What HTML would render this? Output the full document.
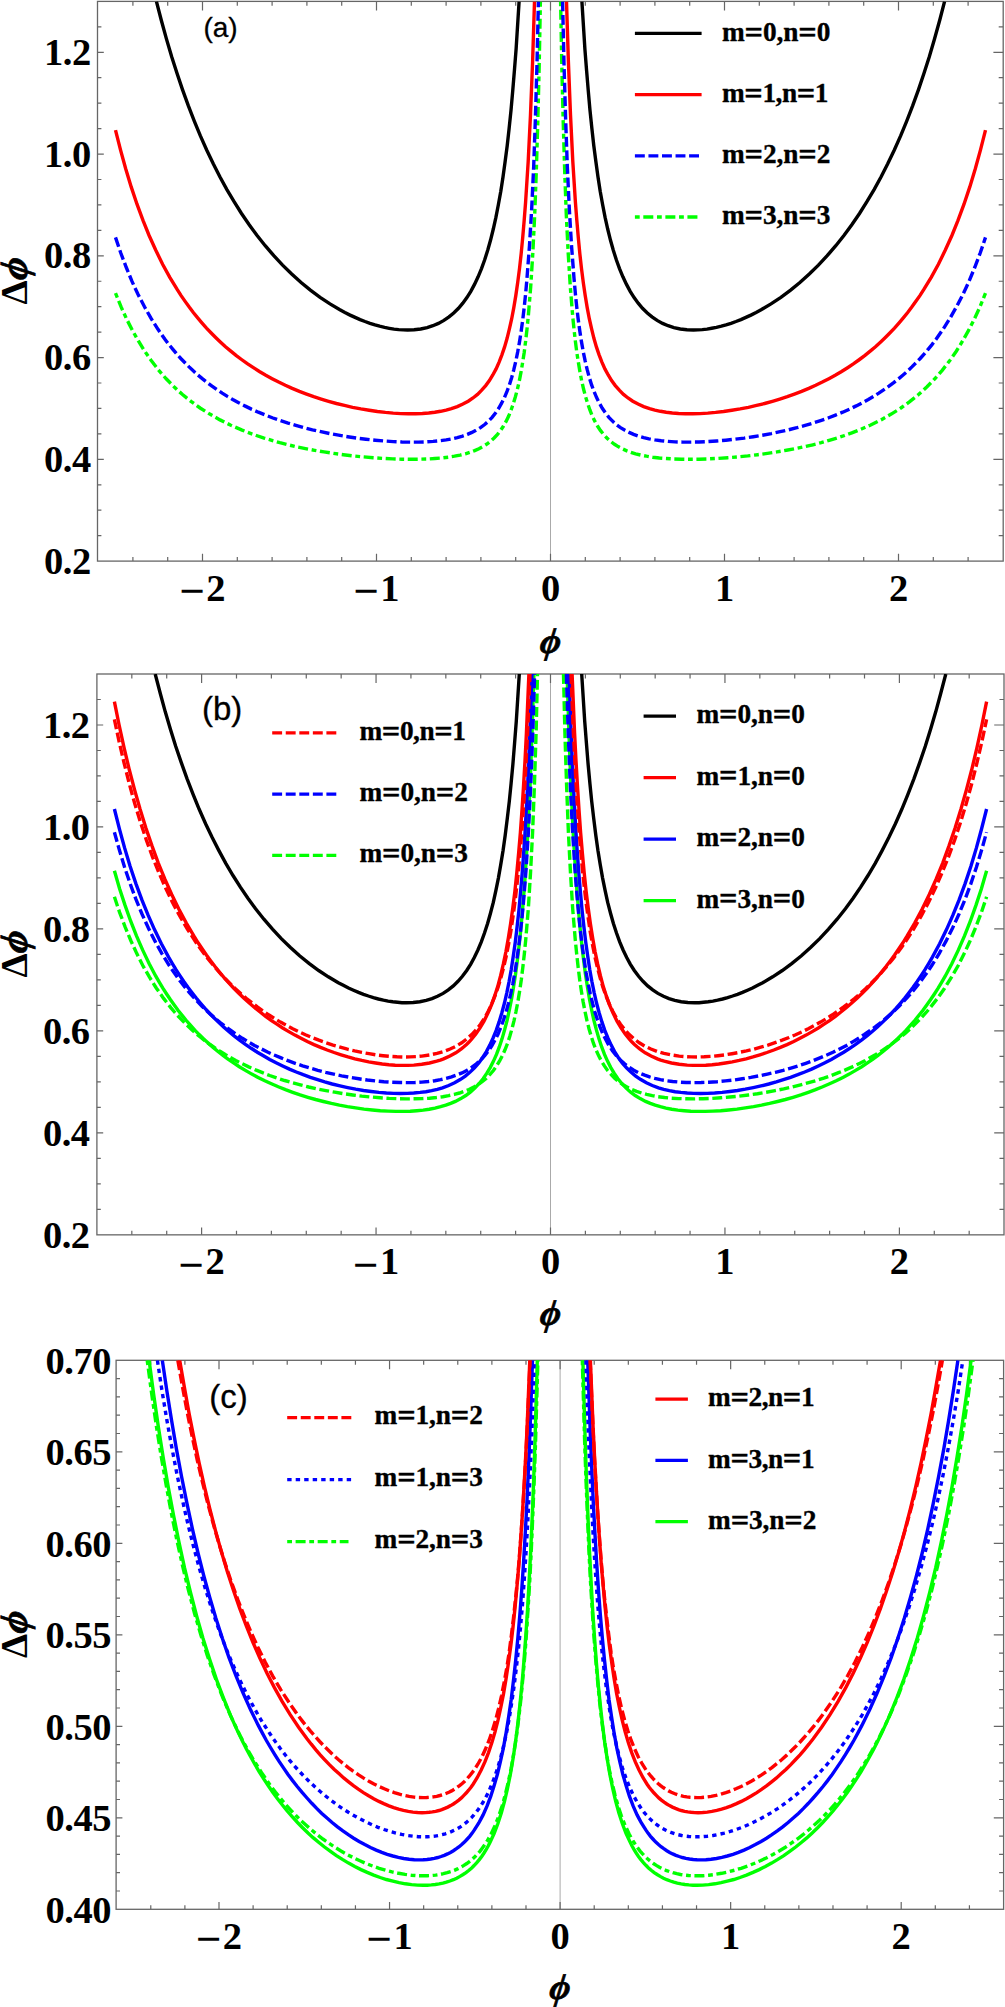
<!DOCTYPE html>
<html><head><meta charset="utf-8"><title>Phase sensitivity plots</title>
<style>html,body{margin:0;padding:0;background:#fff;}svg{display:block;}</style></head>
<body>
<svg width="1005" height="2007" viewBox="0 0 1005 2007">
<style>.tk{font-family:'Liberation Serif','Times New Roman',serif;font-weight:bold;font-size:38.5px;fill:#000}.ax{font-family:'Liberation Serif','Times New Roman',serif;font-weight:bold;font-style:italic;font-size:36px;fill:#000}.lg{font-family:'Liberation Serif','Times New Roman',serif;font-weight:bold;font-size:27.3px;fill:#000;stroke:#000;stroke-width:0.35px}.pl{font-family:'Liberation Sans',Arial,sans-serif;font-size:28px;fill:#000;stroke:#000;stroke-width:0.3px}.eq{font-size:32.5px}</style>
<rect width="1005" height="2007" fill="#fff"/>
<clipPath id="clipa"><rect x="97.50" y="1.40" width="905.70" height="559.70"/></clipPath>
<line x1="550.50" y1="1.40" x2="550.50" y2="561.10" stroke="#aaa" stroke-width="1"/>
<path d="M132.90,561.10v-4.1M132.90,1.40v4.4M167.70,561.10v-4.1M167.70,1.40v4.4M202.50,561.10v-7.4M202.50,1.40v9.0M237.30,561.10v-4.1M237.30,1.40v4.4M272.10,561.10v-4.1M272.10,1.40v4.4M306.90,561.10v-4.1M306.90,1.40v4.4M341.70,561.10v-4.1M341.70,1.40v4.4M376.50,561.10v-7.4M376.50,1.40v9.0M411.30,561.10v-4.1M411.30,1.40v4.4M446.10,561.10v-4.1M446.10,1.40v4.4M480.90,561.10v-4.1M480.90,1.40v4.4M515.70,561.10v-4.1M515.70,1.40v4.4M550.50,561.10v-7.4M550.50,1.40v9.0M585.30,561.10v-4.1M585.30,1.40v4.4M620.10,561.10v-4.1M620.10,1.40v4.4M654.90,561.10v-4.1M654.90,1.40v4.4M689.70,561.10v-4.1M689.70,1.40v4.4M724.50,561.10v-7.4M724.50,1.40v9.0M759.30,561.10v-4.1M759.30,1.40v4.4M794.10,561.10v-4.1M794.10,1.40v4.4M828.90,561.10v-4.1M828.90,1.40v4.4M863.70,561.10v-4.1M863.70,1.40v4.4M898.50,561.10v-7.4M898.50,1.40v9.0M933.30,561.10v-4.1M933.30,1.40v4.4M968.10,561.10v-4.1M968.10,1.40v4.4M97.50,535.66h3.9M1003.20,535.66h-4.5M97.50,510.22h3.9M1003.20,510.22h-4.5M97.50,484.78h3.9M1003.20,484.78h-4.5M97.50,459.34h6.3M1003.20,459.34h-9.8M97.50,433.90h3.9M1003.20,433.90h-4.5M97.50,408.45h3.9M1003.20,408.45h-4.5M97.50,383.01h3.9M1003.20,383.01h-4.5M97.50,357.57h6.3M1003.20,357.57h-9.8M97.50,332.13h3.9M1003.20,332.13h-4.5M97.50,306.69h3.9M1003.20,306.69h-4.5M97.50,281.25h3.9M1003.20,281.25h-4.5M97.50,255.81h6.3M1003.20,255.81h-9.8M97.50,230.37h3.9M1003.20,230.37h-4.5M97.50,204.93h3.9M1003.20,204.93h-4.5M97.50,179.49h3.9M1003.20,179.49h-4.5M97.50,154.05h6.3M1003.20,154.05h-9.8M97.50,128.60h3.9M1003.20,128.60h-4.5M97.50,103.16h3.9M1003.20,103.16h-4.5M97.50,77.72h3.9M1003.20,77.72h-4.5M97.50,52.28h6.3M1003.20,52.28h-9.8M97.50,26.84h3.9M1003.20,26.84h-4.5" stroke="#666" stroke-width="1.2" fill="none"/>
<rect x="97.50" y="1.40" width="905.70" height="559.70" fill="none" stroke="#666" stroke-width="1.3"/>
<text x="90.70" y="573.70" text-anchor="end" class="tk" font-size="40" letter-spacing="-0.5">0.2</text>
<text x="90.70" y="471.94" text-anchor="end" class="tk" font-size="40" letter-spacing="-0.5">0.4</text>
<text x="90.70" y="370.17" text-anchor="end" class="tk" font-size="40" letter-spacing="-0.5">0.6</text>
<text x="90.70" y="268.41" text-anchor="end" class="tk" font-size="40" letter-spacing="-0.5">0.8</text>
<text x="90.70" y="166.65" text-anchor="end" class="tk" font-size="40" letter-spacing="-0.5">1.0</text>
<text x="90.70" y="64.88" text-anchor="end" class="tk" font-size="40" letter-spacing="-0.5">1.2</text>
<text x="202.50" y="600.70" text-anchor="middle" class="tk"><tspan font-size="45" dy="5.4">−</tspan><tspan dy="-5.4" dx="1.3">2</tspan></text>
<text x="376.50" y="600.70" text-anchor="middle" class="tk"><tspan font-size="45" dy="5.4">−</tspan><tspan dy="-5.4" dx="1.3">1</tspan></text>
<text x="550.50" y="600.70" text-anchor="middle" class="tk">0</text>
<text x="724.50" y="600.70" text-anchor="middle" class="tk">1</text>
<text x="898.50" y="600.70" text-anchor="middle" class="tk">2</text>
<text transform="translate(549.30,652.70) skewX(-7)" text-anchor="middle" class="ax" stroke="#000" stroke-width="0.7">ϕ</text>
<text transform="translate(26.5,281.25) rotate(-90)" x="-23.2" class="tk">Δ</text>
<text transform="translate(26.5,281.25) rotate(-90) translate(0.2,0) skewX(-8)" class="tk" font-style="italic" font-size="36.5" stroke="#000" stroke-width="0.7">ϕ</text>
<path d="M115.5,293.2L121.0,306.7 126.5,318.8 132.3,330.2 138.4,341.0 144.7,351.2 151.6,361.1 158.8,370.3 166.2,378.8 174.0,386.7 178.1,390.6 182.2,394.3 186.6,397.9 191.0,401.4 200.1,408.0 209.8,414.1 220.0,419.9 230.8,425.2 242.1,430.1 249.2,432.9 256.4,435.5 264.1,438.1 271.8,440.4 279.8,442.7 288.1,444.8 296.7,446.8 305.5,448.6 314.6,450.3 324.0,451.9 333.6,453.4 343.3,454.7 353.2,455.9 363.4,456.9 373.3,457.7 383.2,458.4 392.6,458.9 402.0,459.2 410.8,459.3 419.4,459.2 427.4,459.0 434.8,458.5 441.7,458.0 448.4,457.2 454.5,456.2 460.1,455.1 465.4,453.8 470.1,452.3 474.7,450.6 478.9,448.7 482.8,446.6 486.5,444.3 490.5,441.3 494.1,438.0 497.5,434.4 500.6,430.4 503.5,426.0 506.2,421.2 508.8,415.8 511.1,410.0 513.3,403.7 515.4,396.8 517.4,389.3 519.3,381.0 521.0,372.1 522.6,362.6 524.2,352.4 525.6,341.4 527.0,329.1 528.3,316.2 530.7,286.9 532.8,253.1 534.7,215.0 536.3,171.4 537.8,121.8 539.2,65.6 540.4,1.4" fill="none" stroke="#0f0" stroke-width="3.4" stroke-dasharray="4.8 3.6 10 3.67" clip-path="url(#clipa)"/>
<path d="M560.6,1.4L561.8,65.6 563.2,121.8 564.7,171.4 566.3,215.0 568.2,253.1 570.3,286.9 572.7,316.2 574.0,329.1 575.4,341.4 576.8,352.4 578.4,362.6 580.0,372.1 581.7,381.0 583.6,389.3 585.6,396.8 587.7,403.7 589.9,410.0 592.2,415.8 594.8,421.2 597.5,426.0 600.4,430.4 603.5,434.4 606.9,438.0 610.5,441.3 614.5,444.3 618.2,446.6 622.1,448.7 626.3,450.6 630.9,452.3 635.6,453.8 640.9,455.1 646.5,456.2 652.6,457.2 659.3,458.0 666.2,458.5 673.6,459.0 681.6,459.2 690.2,459.3 699.0,459.2 708.4,458.9 717.8,458.4 727.7,457.7 737.6,456.9 747.8,455.9 757.7,454.7 767.4,453.4 777.0,451.9 786.4,450.3 795.5,448.6 804.3,446.8 812.9,444.8 821.2,442.7 829.2,440.4 836.9,438.1 844.6,435.5 851.8,432.9 858.9,430.1 870.2,425.2 881.0,419.9 891.2,414.1 900.9,408.0 910.0,401.4 914.4,397.9 918.8,394.3 922.9,390.6 927.0,386.7 934.8,378.8 942.2,370.3 949.4,361.1 956.3,351.2 962.6,341.0 968.7,330.2 974.5,318.8 980.0,306.7 985.5,293.2" fill="none" stroke="#0f0" stroke-width="3.4" stroke-dasharray="4.8 3.6 10 3.67" clip-path="url(#clipa)"/>
<path d="M115.5,237.4L120.7,252.8 126.3,267.5 132.0,281.4 138.1,294.5 144.5,306.8 151.1,318.4 158.0,329.3 165.1,339.5 169.0,344.6 172.9,349.3 176.7,353.9 180.8,358.5 185.0,362.8 189.1,366.9 193.5,371.1 197.9,375.0 202.6,378.9 207.3,382.6 212.0,386.1 217.0,389.6 222.2,393.1 227.4,396.4 232.7,399.5 238.2,402.5 244.8,405.9 251.4,409.1 258.3,412.2 265.5,415.1 272.9,418.0 280.4,420.6 288.1,423.1 295.8,425.4 304.1,427.7 312.4,429.8 320.9,431.7 329.7,433.6 338.6,435.2 347.7,436.7 356.8,438.1 365.9,439.2 375.2,440.2 384.3,441.0 393.2,441.6 402.0,442.0 410.3,442.1 418.3,442.1 426.0,441.9 433.1,441.4 439.8,440.7 446.1,439.9 452.0,438.8 457.3,437.6 462.6,436.1 467.4,434.4 471.9,432.4 476.0,430.3 480.5,427.6 484.7,424.5 488.5,421.1 492.1,417.3 495.5,413.0 498.7,408.3 501.6,403.2 504.4,397.6 507.0,391.4 509.4,384.9 511.7,377.5 513.8,369.7 515.8,361.2 517.7,351.9 519.5,341.9 521.2,331.0 522.8,319.3 524.3,306.6 525.7,292.9 527.0,278.2 529.5,245.4 531.7,208.4 533.7,166.1 535.4,118.0 537.0,63.4 538.4,1.4" fill="none" stroke="#00f" stroke-width="3.4" stroke-dasharray="9.9 3.65" clip-path="url(#clipa)"/>
<path d="M562.6,1.4L564.0,63.4 565.6,118.0 567.3,166.1 569.3,208.4 571.5,245.4 574.0,278.2 575.3,292.9 576.7,306.6 578.2,319.3 579.8,331.0 581.5,341.9 583.3,351.9 585.2,361.2 587.2,369.7 589.3,377.5 591.6,384.9 594.0,391.4 596.6,397.6 599.4,403.2 602.3,408.3 605.5,413.0 608.9,417.3 612.5,421.1 616.3,424.5 620.5,427.6 625.0,430.3 629.1,432.4 633.6,434.4 638.4,436.1 643.7,437.6 649.0,438.8 654.9,439.9 661.2,440.7 667.9,441.4 675.0,441.9 682.7,442.1 690.7,442.1 699.0,442.0 707.8,441.6 716.7,441.0 725.8,440.2 735.1,439.2 744.2,438.1 753.3,436.7 762.4,435.2 771.3,433.6 780.1,431.7 788.6,429.8 796.9,427.7 805.2,425.4 812.9,423.1 820.6,420.6 828.1,418.0 835.5,415.1 842.7,412.2 849.6,409.1 856.2,405.9 862.8,402.5 868.3,399.5 873.6,396.4 878.8,393.1 884.0,389.6 889.0,386.1 893.7,382.6 898.4,378.9 903.1,375.0 907.5,371.1 911.9,366.9 916.0,362.8 920.2,358.5 924.3,353.9 928.1,349.3 932.0,344.6 935.9,339.5 943.0,329.3 949.9,318.4 956.5,306.8 962.9,294.5 969.0,281.4 974.7,267.5 980.3,252.8 985.5,237.4" fill="none" stroke="#00f" stroke-width="3.4" stroke-dasharray="9.9 3.65" clip-path="url(#clipa)"/>
<path d="M115.5,130.2L120.5,149.9 125.7,168.8 131.2,186.9 137.0,204.2 143.1,220.6 149.1,235.5 155.8,250.3 162.6,264.2 169.8,277.3 177.3,289.7 181.1,295.6 185.3,301.6 189.4,307.3 193.5,312.7 197.7,317.9 202.1,323.1 206.5,328.1 211.2,333.0 215.9,337.7 220.6,342.2 225.5,346.7 230.5,350.9 236.0,355.4 241.5,359.5 247.3,363.7 253.4,367.7 259.4,371.5 265.8,375.3 272.1,378.7 278.7,382.1 285.3,385.3 292.2,388.4 299.4,391.4 306.6,394.1 313.7,396.7 321.2,399.1 328.6,401.3 336.4,403.5 344.4,405.4 352.6,407.3 360.9,408.9 369.2,410.3 377.4,411.5 385.4,412.4 393.2,413.1 400.9,413.6 408.3,413.8 415.5,413.8 422.4,413.5 428.7,413.0 434.8,412.3 440.6,411.3 446.1,410.1 451.4,408.7 457.3,406.6 462.9,404.1 468.2,401.2 473.0,398.0 477.5,394.4 481.7,390.2 485.7,385.6 489.4,380.6 492.8,375.0 496.1,368.9 499.1,362.1 501.9,354.8 504.6,346.9 507.1,338.3 509.4,328.9 511.7,318.7 513.8,307.6 515.8,295.6 517.7,282.6 519.5,268.6 521.2,253.4 522.7,237.7 524.2,220.2 525.6,202.1 528.2,161.3 530.5,114.7 532.6,61.7 534.5,1.4" fill="none" stroke="#f00" stroke-width="3.4"  clip-path="url(#clipa)"/>
<path d="M566.5,1.4L568.4,61.7 570.5,114.7 572.8,161.3 575.4,202.1 576.8,220.2 578.3,237.7 579.8,253.4 581.5,268.6 583.3,282.6 585.2,295.6 587.2,307.6 589.3,318.7 591.6,328.9 593.9,338.3 596.4,346.9 599.1,354.8 601.9,362.1 604.9,368.9 608.2,375.0 611.6,380.6 615.3,385.6 619.3,390.2 623.5,394.4 628.0,398.0 632.8,401.2 638.1,404.1 643.7,406.6 649.6,408.7 654.9,410.1 660.4,411.3 666.2,412.3 672.3,413.0 678.6,413.5 685.5,413.8 692.7,413.8 700.1,413.6 707.8,413.1 715.6,412.4 723.6,411.5 731.8,410.3 740.1,408.9 748.4,407.3 756.6,405.4 764.6,403.5 772.4,401.3 779.8,399.1 787.3,396.7 794.4,394.1 801.6,391.4 808.8,388.4 815.7,385.3 822.3,382.1 828.9,378.7 835.2,375.3 841.6,371.5 847.6,367.7 853.7,363.7 859.5,359.5 865.0,355.4 870.5,350.9 875.5,346.7 880.4,342.2 885.1,337.7 889.8,333.0 894.5,328.1 898.9,323.1 903.3,317.9 907.5,312.7 911.6,307.3 915.7,301.6 919.9,295.6 923.7,289.7 931.2,277.3 938.4,264.2 945.2,250.3 951.9,235.5 957.9,220.6 964.0,204.2 969.8,186.9 975.3,168.8 980.5,149.9 985.5,130.2" fill="none" stroke="#f00" stroke-width="3.4"  clip-path="url(#clipa)"/>
<path d="M156.4,1.4L161.3,20.2 166.5,39.1 171.7,56.8 177.0,73.3 182.5,89.6 188.3,105.7 194.4,121.3 200.4,135.9 206.8,150.2 213.4,164.1 220.0,177.0 226.9,189.6 234.1,201.7 241.5,213.5 249.2,224.8 256.9,235.3 265.2,245.7 273.8,255.7 282.6,265.1 291.7,274.0 301.1,282.5 310.4,290.1 320.1,297.3 330.0,303.9 339.9,309.8 344.9,312.5 350.1,315.1 355.1,317.4 360.1,319.6 365.0,321.5 370.0,323.3 375.0,324.9 379.6,326.2 384.6,327.4 389.3,328.3 394.0,329.1 398.7,329.6 403.1,329.9 407.5,330.0 414.1,329.8 420.7,329.0 427.1,327.6 432.9,325.7 438.4,323.4 443.9,320.4 449.0,316.9 453.7,313.0 458.5,308.3 462.8,303.2 466.9,297.6 470.8,291.3 474.5,284.4 478.1,276.8 481.5,268.6 484.6,260.0 487.7,250.3 490.5,240.3 493.3,229.0 495.9,217.4 498.4,204.5 500.8,191.2 503.0,177.0 505.1,161.8 507.2,145.7 509.1,128.6 511.0,110.4 512.7,91.1 514.4,70.7 516.1,49.1 519.1,1.4" fill="none" stroke="#000" stroke-width="3.4"  clip-path="url(#clipa)"/>
<path d="M581.9,1.4L584.9,49.1 586.6,70.7 588.3,91.1 590.0,110.4 591.9,128.6 593.8,145.7 595.9,161.8 598.0,177.0 600.2,191.2 602.6,204.5 605.1,217.4 607.7,229.0 610.5,240.3 613.3,250.3 616.4,260.0 619.5,268.6 622.9,276.8 626.5,284.4 630.2,291.3 634.1,297.6 638.2,303.2 642.5,308.3 647.3,313.0 652.0,316.9 657.1,320.4 662.6,323.4 668.1,325.7 673.9,327.6 680.3,329.0 686.9,329.8 693.5,330.0 697.9,329.9 702.3,329.6 707.0,329.1 711.7,328.3 716.4,327.4 721.4,326.2 726.0,324.9 731.0,323.3 736.0,321.5 740.9,319.6 745.9,317.4 750.9,315.1 756.1,312.5 761.1,309.8 771.0,303.9 780.9,297.3 790.6,290.1 799.9,282.5 809.3,274.0 818.4,265.1 827.2,255.7 835.8,245.7 844.1,235.3 851.8,224.8 859.5,213.5 866.9,201.7 874.1,189.6 881.0,177.0 887.6,164.1 894.2,150.2 900.6,135.9 906.6,121.3 912.7,105.7 918.5,89.6 924.0,73.3 929.3,56.8 934.5,39.1 939.7,20.2 944.6,1.4" fill="none" stroke="#000" stroke-width="3.4"  clip-path="url(#clipa)"/>
<text x="203.4" y="37.1" class="pl">(a)</text>
<line x1="634.90" y1="33.40" x2="701.60" y2="33.40" stroke="#000" stroke-width="3.3" />
<text x="722.00" y="40.80" class="lg" textLength="108.3" lengthAdjust="spacing">m<tspan class="eq" dy="1.9">=</tspan><tspan dy="-1.9">0</tspan>,n<tspan class="eq" dy="1.9">=</tspan><tspan dy="-1.9">0</tspan></text>
<line x1="634.90" y1="94.60" x2="701.60" y2="94.60" stroke="#f00" stroke-width="3.3" />
<text x="722.00" y="102.00" class="lg" textLength="106.5" lengthAdjust="spacing">m<tspan class="eq" dy="1.9">=</tspan><tspan dy="-1.9">1</tspan>,n<tspan class="eq" dy="1.9">=</tspan><tspan dy="-1.9">1</tspan></text>
<line x1="634.90" y1="155.80" x2="701.60" y2="155.80" stroke="#00f" stroke-width="3.3" stroke-dasharray="9.9 3.65"/>
<text x="722.00" y="163.20" class="lg" textLength="108.3" lengthAdjust="spacing">m<tspan class="eq" dy="1.9">=</tspan><tspan dy="-1.9">2</tspan>,n<tspan class="eq" dy="1.9">=</tspan><tspan dy="-1.9">2</tspan></text>
<line x1="634.90" y1="217.00" x2="698.10" y2="217.00" stroke="#0f0" stroke-width="3.3" stroke-dasharray="4.8 3.6 10 3.67"/>
<text x="722.00" y="224.40" class="lg" textLength="108.3" lengthAdjust="spacing">m<tspan class="eq" dy="1.9">=</tspan><tspan dy="-1.9">3</tspan>,n<tspan class="eq" dy="1.9">=</tspan><tspan dy="-1.9">3</tspan></text>
<clipPath id="clipb"><rect x="96.90" y="674.00" width="907.10" height="560.85"/></clipPath>
<line x1="550.50" y1="674.00" x2="550.50" y2="1234.85" stroke="#aaa" stroke-width="1"/>
<path d="M131.82,1234.85v-4.1M131.82,674.00v4.4M166.71,1234.85v-4.1M166.71,674.00v4.4M201.60,1234.85v-7.4M201.60,674.00v9.0M236.49,1234.85v-4.1M236.49,674.00v4.4M271.38,1234.85v-4.1M271.38,674.00v4.4M306.27,1234.85v-4.1M306.27,674.00v4.4M341.16,1234.85v-4.1M341.16,674.00v4.4M376.05,1234.85v-7.4M376.05,674.00v9.0M410.94,1234.85v-4.1M410.94,674.00v4.4M445.83,1234.85v-4.1M445.83,674.00v4.4M480.72,1234.85v-4.1M480.72,674.00v4.4M515.61,1234.85v-4.1M515.61,674.00v4.4M550.50,1234.85v-7.4M550.50,674.00v9.0M585.39,1234.85v-4.1M585.39,674.00v4.4M620.28,1234.85v-4.1M620.28,674.00v4.4M655.17,1234.85v-4.1M655.17,674.00v4.4M690.06,1234.85v-4.1M690.06,674.00v4.4M724.95,1234.85v-7.4M724.95,674.00v9.0M759.84,1234.85v-4.1M759.84,674.00v4.4M794.73,1234.85v-4.1M794.73,674.00v4.4M829.62,1234.85v-4.1M829.62,674.00v4.4M864.51,1234.85v-4.1M864.51,674.00v4.4M899.40,1234.85v-7.4M899.40,674.00v9.0M934.29,1234.85v-4.1M934.29,674.00v4.4M969.18,1234.85v-4.1M969.18,674.00v4.4M96.90,1209.36h3.9M1004.00,1209.36h-4.5M96.90,1183.86h3.9M1004.00,1183.86h-4.5M96.90,1158.37h3.9M1004.00,1158.37h-4.5M96.90,1132.88h6.3M1004.00,1132.88h-9.8M96.90,1107.38h3.9M1004.00,1107.38h-4.5M96.90,1081.89h3.9M1004.00,1081.89h-4.5M96.90,1056.40h3.9M1004.00,1056.40h-4.5M96.90,1030.90h6.3M1004.00,1030.90h-9.8M96.90,1005.41h3.9M1004.00,1005.41h-4.5M96.90,979.92h3.9M1004.00,979.92h-4.5M96.90,954.42h3.9M1004.00,954.42h-4.5M96.90,928.93h6.3M1004.00,928.93h-9.8M96.90,903.44h3.9M1004.00,903.44h-4.5M96.90,877.95h3.9M1004.00,877.95h-4.5M96.90,852.45h3.9M1004.00,852.45h-4.5M96.90,826.96h6.3M1004.00,826.96h-9.8M96.90,801.47h3.9M1004.00,801.47h-4.5M96.90,775.97h3.9M1004.00,775.97h-4.5M96.90,750.48h3.9M1004.00,750.48h-4.5M96.90,724.99h6.3M1004.00,724.99h-9.8M96.90,699.49h3.9M1004.00,699.49h-4.5" stroke="#666" stroke-width="1.2" fill="none"/>
<rect x="96.90" y="674.00" width="907.10" height="560.85" fill="none" stroke="#666" stroke-width="1.3"/>
<text x="89.50" y="1247.65" text-anchor="end" class="tk" font-size="40" letter-spacing="-0.5">0.2</text>
<text x="89.50" y="1145.68" text-anchor="end" class="tk" font-size="40" letter-spacing="-0.5">0.4</text>
<text x="89.50" y="1043.70" text-anchor="end" class="tk" font-size="40" letter-spacing="-0.5">0.6</text>
<text x="89.50" y="941.73" text-anchor="end" class="tk" font-size="40" letter-spacing="-0.5">0.8</text>
<text x="89.50" y="839.76" text-anchor="end" class="tk" font-size="40" letter-spacing="-0.5">1.0</text>
<text x="89.50" y="737.79" text-anchor="end" class="tk" font-size="40" letter-spacing="-0.5">1.2</text>
<text x="201.60" y="1274.45" text-anchor="middle" class="tk"><tspan font-size="45" dy="5.4">−</tspan><tspan dy="-5.4" dx="1.3">2</tspan></text>
<text x="376.05" y="1274.45" text-anchor="middle" class="tk"><tspan font-size="45" dy="5.4">−</tspan><tspan dy="-5.4" dx="1.3">1</tspan></text>
<text x="550.50" y="1274.45" text-anchor="middle" class="tk">0</text>
<text x="724.95" y="1274.45" text-anchor="middle" class="tk">1</text>
<text x="899.40" y="1274.45" text-anchor="middle" class="tk">2</text>
<text transform="translate(549.30,1324.65) skewX(-7)" text-anchor="middle" class="ax" stroke="#000" stroke-width="0.7">ϕ</text>
<text transform="translate(26.5,954.42) rotate(-90)" x="-23.2" class="tk">Δ</text>
<text transform="translate(26.5,954.42) rotate(-90) translate(0.2,0) skewX(-8)" class="tk" font-style="italic" font-size="36.5" stroke="#000" stroke-width="0.7">ϕ</text>
<path d="M114.4,896.8L119.6,912.4 125.2,927.1 131.0,941.0 136.8,953.6 142.8,965.5 149.5,977.2 156.4,988.2 163.6,998.4 171.0,1007.9 174.9,1012.5 179.1,1017.1 183.2,1021.4 187.4,1025.6 191.8,1029.7 196.2,1033.6 200.6,1037.3 205.3,1041.0 210.0,1044.5 215.0,1048.0 220.0,1051.3 225.2,1054.5 235.7,1060.5 242.1,1063.7 248.7,1066.9 255.6,1069.9 262.5,1072.7 269.7,1075.5 277.2,1078.1 284.7,1080.5 292.4,1082.7 300.4,1084.9 308.7,1087.0 317.3,1088.9 325.9,1090.6 334.7,1092.2 343.5,1093.7 352.7,1095.0 361.8,1096.1 371.2,1097.0 380.3,1097.8 389.2,1098.4 398.0,1098.7 406.6,1098.9 414.6,1098.8 422.3,1098.6 429.5,1098.2 436.4,1097.5 442.8,1096.7 448.7,1095.6 454.3,1094.4 459.5,1093.0 464.4,1091.3 469.0,1089.5 473.3,1087.4 477.9,1084.7 482.1,1081.7 486.1,1078.4 489.8,1074.6 493.4,1070.5 496.6,1065.9 499.6,1061.0 502.4,1055.6 505.0,1049.8 507.5,1043.4 509.8,1036.3 512.0,1028.7 514.1,1020.3 516.0,1011.5 517.9,1001.6 519.6,991.3 521.3,979.7 522.8,967.6 524.3,954.2 525.7,940.1 528.3,908.9 530.5,873.1 532.6,832.2 534.4,785.6 536.1,732.8 537.5,674.0" fill="none" stroke="#0f0" stroke-width="3.4" stroke-dasharray="9.9 3.65" clip-path="url(#clipb)"/>
<path d="M563.5,674.0L564.9,732.8 566.6,785.6 568.4,832.2 570.5,873.1 572.7,908.9 575.3,940.1 576.7,954.2 578.2,967.6 579.7,979.7 581.4,991.3 583.1,1001.6 585.0,1011.5 586.9,1020.3 589.0,1028.7 591.2,1036.3 593.5,1043.4 596.0,1049.8 598.6,1055.6 601.4,1061.0 604.4,1065.9 607.6,1070.5 611.2,1074.6 614.9,1078.4 618.9,1081.7 623.1,1084.7 627.7,1087.4 632.0,1089.5 636.6,1091.3 641.5,1093.0 646.7,1094.4 652.3,1095.6 658.2,1096.7 664.6,1097.5 671.5,1098.2 678.7,1098.6 686.4,1098.8 694.4,1098.9 703.0,1098.7 711.8,1098.4 720.7,1097.8 729.8,1097.0 739.2,1096.1 748.3,1095.0 757.5,1093.7 766.3,1092.2 775.1,1090.6 783.7,1088.9 792.3,1087.0 800.6,1084.9 808.6,1082.7 816.3,1080.5 823.8,1078.1 831.3,1075.5 838.5,1072.7 845.4,1069.9 852.3,1066.9 858.9,1063.7 865.3,1060.5 875.8,1054.5 881.0,1051.3 886.0,1048.0 891.0,1044.5 895.7,1041.0 900.4,1037.3 904.8,1033.6 909.2,1029.7 913.6,1025.6 917.8,1021.4 921.9,1017.1 926.1,1012.5 930.0,1007.9 937.4,998.4 944.6,988.2 951.5,977.2 958.2,965.5 964.2,953.6 970.0,941.0 975.8,927.1 981.4,912.4 986.6,896.8" fill="none" stroke="#0f0" stroke-width="3.4" stroke-dasharray="9.9 3.65" clip-path="url(#clipb)"/>
<path d="M114.4,870.8L119.6,888.7 124.9,904.9 130.7,921.2 136.5,935.9 142.6,949.9 149.2,963.7 155.8,976.2 159.4,982.4 163.0,988.4 166.6,994.0 170.5,999.8 174.4,1005.3 178.2,1010.5 182.1,1015.4 186.3,1020.5 190.4,1025.2 194.8,1030.1 199.2,1034.6 203.7,1038.9 208.4,1043.3 213.1,1047.4 218.0,1051.5 223.0,1055.4 228.0,1059.1 233.2,1062.7 239.3,1066.7 245.4,1070.4 251.8,1074.1 258.1,1077.4 264.8,1080.8 271.4,1083.8 278.3,1086.8 285.5,1089.7 292.7,1092.3 300.1,1094.9 307.9,1097.3 315.6,1099.5 323.4,1101.5 331.4,1103.4 339.4,1105.1 347.4,1106.6 355.7,1107.9 364.0,1109.1 372.3,1110.0 380.3,1110.7 388.1,1111.1 395.8,1111.4 403.3,1111.4 410.2,1111.2 416.8,1110.7 423.2,1110.1 429.2,1109.2 435.0,1108.1 440.6,1106.7 445.8,1105.2 450.7,1103.4 455.4,1101.4 460.8,1098.6 465.8,1095.5 470.6,1091.9 475.1,1087.9 479.2,1083.5 483.1,1078.7 486.7,1073.4 490.2,1067.6 493.5,1061.1 496.5,1054.4 499.4,1046.7 502.1,1038.6 504.6,1029.9 507.1,1020.4 509.3,1010.2 511.5,999.1 513.5,987.2 515.5,974.4 517.3,960.6 519.0,946.4 520.7,930.6 522.2,913.7 523.7,895.7 525.1,877.1 527.7,834.7 530.0,787.5 532.0,734.3 533.9,674.0" fill="none" stroke="#0f0" stroke-width="3.4"  clip-path="url(#clipb)"/>
<path d="M567.1,674.0L569.0,734.3 571.0,787.5 573.3,834.7 575.9,877.1 577.3,895.7 578.8,913.7 580.3,930.6 582.0,946.4 583.7,960.6 585.5,974.4 587.5,987.2 589.5,999.1 591.7,1010.2 593.9,1020.4 596.4,1029.9 598.9,1038.6 601.6,1046.7 604.5,1054.4 607.5,1061.1 610.8,1067.6 614.3,1073.4 617.9,1078.7 621.8,1083.5 625.9,1087.9 630.4,1091.9 635.2,1095.5 640.2,1098.6 645.6,1101.4 650.3,1103.4 655.2,1105.2 660.4,1106.7 666.0,1108.1 671.8,1109.2 677.8,1110.1 684.2,1110.7 690.8,1111.2 697.7,1111.4 705.2,1111.4 712.9,1111.1 720.7,1110.7 728.7,1110.0 737.0,1109.1 745.3,1107.9 753.6,1106.6 761.6,1105.1 769.6,1103.4 777.6,1101.5 785.4,1099.5 793.1,1097.3 800.9,1094.9 808.3,1092.3 815.5,1089.7 822.7,1086.8 829.6,1083.8 836.2,1080.8 842.9,1077.4 849.2,1074.1 855.6,1070.4 861.7,1066.7 867.8,1062.7 873.0,1059.1 878.0,1055.4 883.0,1051.5 887.9,1047.4 892.6,1043.3 897.3,1038.9 901.8,1034.6 906.2,1030.1 910.6,1025.2 914.7,1020.5 918.9,1015.4 922.8,1010.5 926.6,1005.3 930.5,999.8 934.4,994.0 938.0,988.4 941.6,982.4 945.2,976.2 951.8,963.7 958.4,949.9 964.5,935.9 970.3,921.2 976.1,904.9 981.4,888.7 986.6,870.8" fill="none" stroke="#0f0" stroke-width="3.4"  clip-path="url(#clipb)"/>
<path d="M114.4,832.2L119.4,850.1 124.6,867.2 130.1,883.6 135.9,899.2 142.0,914.0 148.4,928.0 155.0,941.2 161.9,953.6 169.1,965.3 173.0,971.1 176.9,976.6 180.7,981.8 184.9,987.1 189.0,992.1 193.2,996.9 197.6,1001.7 202.0,1006.2 206.4,1010.5 211.1,1014.9 215.8,1018.9 220.8,1023.0 225.8,1026.9 230.8,1030.5 236.6,1034.5 242.4,1038.3 248.4,1041.9 254.5,1045.4 260.9,1048.7 267.5,1052.0 274.2,1055.0 281.1,1057.9 288.0,1060.7 295.2,1063.3 302.6,1065.8 310.1,1068.1 317.8,1070.3 325.6,1072.3 333.6,1074.1 341.6,1075.8 350.2,1077.4 358.8,1078.8 367.3,1080.0 375.6,1080.9 383.9,1081.7 392.2,1082.2 399.9,1082.5 407.7,1082.6 414.9,1082.5 421.8,1082.1 428.4,1081.5 434.8,1080.7 440.6,1079.7 446.2,1078.4 451.5,1076.9 456.3,1075.2 462.0,1072.9 467.2,1070.2 472.0,1067.1 476.4,1063.8 480.7,1059.9 484.7,1055.7 488.4,1050.9 491.8,1045.9 494.9,1040.3 498.0,1034.2 500.8,1027.4 503.5,1020.0 506.1,1011.9 508.4,1003.4 510.7,993.8 512.8,983.8 514.9,972.5 516.7,960.7 518.5,948.0 520.2,934.3 521.8,919.6 523.3,903.8 524.7,886.8 526.1,868.6 528.6,828.4 530.8,783.4 532.8,732.3 534.6,674.0" fill="none" stroke="#00f" stroke-width="3.4" stroke-dasharray="9.9 3.65" clip-path="url(#clipb)"/>
<path d="M566.4,674.0L568.2,732.3 570.2,783.4 572.4,828.4 574.9,868.6 576.3,886.8 577.7,903.8 579.2,919.6 580.8,934.3 582.5,948.0 584.3,960.7 586.1,972.5 588.2,983.8 590.3,993.8 592.6,1003.4 594.9,1011.9 597.5,1020.0 600.2,1027.4 603.0,1034.2 606.1,1040.3 609.2,1045.9 612.6,1050.9 616.3,1055.7 620.3,1059.9 624.6,1063.8 629.0,1067.1 633.8,1070.2 639.0,1072.9 644.7,1075.2 649.5,1076.9 654.8,1078.4 660.4,1079.7 666.2,1080.7 672.6,1081.5 679.2,1082.1 686.1,1082.5 693.3,1082.6 701.1,1082.5 708.8,1082.2 717.1,1081.7 725.4,1080.9 733.7,1080.0 742.2,1078.8 750.8,1077.4 759.4,1075.8 767.4,1074.1 775.4,1072.3 783.2,1070.3 790.9,1068.1 798.4,1065.8 805.8,1063.3 813.0,1060.7 819.9,1057.9 826.8,1055.0 833.5,1052.0 840.1,1048.7 846.5,1045.4 852.6,1041.9 858.6,1038.3 864.4,1034.5 870.2,1030.5 875.2,1026.9 880.2,1023.0 885.2,1018.9 889.9,1014.9 894.6,1010.5 899.0,1006.2 903.4,1001.7 907.8,996.9 912.0,992.1 916.1,987.1 920.3,981.8 924.1,976.6 928.0,971.1 931.9,965.3 939.1,953.6 946.0,941.2 952.6,928.0 959.0,914.0 965.1,899.2 970.9,883.6 976.4,867.2 981.6,850.1 986.6,832.2" fill="none" stroke="#00f" stroke-width="3.4" stroke-dasharray="9.9 3.65" clip-path="url(#clipb)"/>
<path d="M114.4,809.0L119.4,828.8 124.6,847.9 130.1,866.2 135.9,883.6 142.0,900.2 148.1,915.2 154.5,929.6 161.4,943.7 168.6,957.1 172.2,963.3 176.0,969.6 179.9,975.6 183.8,981.4 187.9,987.2 192.1,992.7 196.2,998.0 200.6,1003.3 205.0,1008.4 209.5,1013.2 214.2,1018.0 218.9,1022.6 223.6,1026.9 228.5,1031.2 234.1,1035.8 239.6,1040.1 245.4,1044.3 251.2,1048.3 257.3,1052.2 263.4,1055.8 269.7,1059.4 276.1,1062.8 282.7,1066.0 289.4,1069.1 296.3,1072.0 303.2,1074.7 310.4,1077.3 317.6,1079.7 324.7,1081.9 332.2,1084.0 340.0,1085.9 347.7,1087.6 355.7,1089.2 363.5,1090.5 371.2,1091.5 378.9,1092.4 386.4,1093.0 393.6,1093.4 400.5,1093.5 407.4,1093.4 413.8,1093.0 420.1,1092.4 425.9,1091.7 431.7,1090.6 437.3,1089.3 442.5,1087.8 448.7,1085.5 454.6,1082.8 460.2,1079.6 465.3,1076.1 470.1,1072.1 474.5,1067.8 478.8,1062.9 482.7,1057.5 486.4,1051.6 489.8,1045.1 493.1,1038.0 496.2,1030.4 499.1,1021.9 501.8,1013.0 504.4,1003.3 506.8,992.8 509.1,981.5 511.3,969.2 513.3,956.1 515.3,941.9 517.1,926.7 518.9,910.4 520.5,892.9 522.1,874.2 523.6,854.2 525.0,832.9 527.6,785.9 529.9,733.7 532.0,674.0" fill="none" stroke="#00f" stroke-width="3.4"  clip-path="url(#clipb)"/>
<path d="M569.0,674.0L571.1,733.7 573.4,785.9 576.0,832.9 577.4,854.2 578.9,874.2 580.5,892.9 582.1,910.4 583.9,926.7 585.7,941.9 587.7,956.1 589.7,969.2 591.9,981.5 594.2,992.8 596.6,1003.3 599.2,1013.0 601.9,1021.9 604.8,1030.4 607.9,1038.0 611.2,1045.1 614.6,1051.6 618.3,1057.5 622.2,1062.9 626.5,1067.8 630.9,1072.1 635.7,1076.1 640.8,1079.6 646.4,1082.8 652.3,1085.5 658.5,1087.8 663.7,1089.3 669.3,1090.6 675.1,1091.7 680.9,1092.4 687.2,1093.0 693.6,1093.4 700.5,1093.5 707.4,1093.4 714.6,1093.0 722.1,1092.4 729.8,1091.5 737.5,1090.5 745.3,1089.2 753.3,1087.6 761.0,1085.9 768.8,1084.0 776.3,1081.9 783.4,1079.7 790.6,1077.3 797.8,1074.7 804.7,1072.0 811.6,1069.1 818.3,1066.0 824.9,1062.8 831.3,1059.4 837.6,1055.8 843.7,1052.2 849.8,1048.3 855.6,1044.3 861.4,1040.1 866.9,1035.8 872.5,1031.2 877.4,1026.9 882.1,1022.6 886.8,1018.0 891.5,1013.2 896.0,1008.4 900.4,1003.3 904.8,998.0 908.9,992.7 913.1,987.2 917.2,981.4 921.1,975.6 925.0,969.6 928.8,963.3 932.4,957.1 939.6,943.7 946.5,929.6 952.9,915.2 959.0,900.2 965.1,883.6 970.9,866.2 976.4,847.9 981.6,828.8 986.6,809.0" fill="none" stroke="#00f" stroke-width="3.4"  clip-path="url(#clipb)"/>
<path d="M114.4,719.4L119.1,741.6 124.1,763.0 129.3,783.8 134.8,803.7 140.6,822.7 146.4,840.1 152.5,856.8 158.9,872.7 165.5,887.8 172.4,902.2 179.6,915.7 183.5,922.5 187.4,929.0 195.1,941.1 199.2,947.1 203.4,952.8 207.5,958.2 212.0,963.7 216.4,969.0 221.1,974.3 225.8,979.3 230.8,984.3 235.7,989.0 241.0,993.8 246.2,998.3 251.8,1002.7 257.3,1006.9 262.8,1010.9 268.6,1014.8 274.4,1018.5 280.5,1022.1 286.6,1025.5 292.7,1028.7 299.0,1031.8 305.4,1034.7 312.0,1037.5 318.9,1040.2 325.9,1042.7 333.0,1045.1 340.2,1047.2 347.4,1049.2 354.6,1050.9 361.8,1052.4 369.0,1053.7 376.2,1054.9 383.1,1055.7 390.0,1056.4 396.9,1056.8 403.5,1057.0 409.9,1056.9 416.0,1056.6 421.8,1056.1 429.5,1055.0 437.0,1053.4 443.9,1051.4 450.1,1049.0 456.2,1046.1 461.7,1042.8 466.8,1038.9 471.7,1034.6 476.3,1029.6 480.5,1024.2 484.4,1018.2 488.1,1011.6 491.6,1004.2 494.8,996.4 498.0,987.5 500.8,978.1 503.6,967.5 506.2,956.3 508.6,944.1 510.9,930.9 513.0,916.6 515.1,901.2 517.0,884.5 518.8,867.3 520.5,848.1 522.1,828.2 523.6,806.1 525.0,783.3 527.7,731.9 530.0,674.0" fill="none" stroke="#f00" stroke-width="3.4" stroke-dasharray="9.9 3.65" clip-path="url(#clipb)"/>
<path d="M571.0,674.0L573.3,731.9 576.0,783.3 577.4,806.1 578.9,828.2 580.5,848.1 582.2,867.3 584.0,884.5 585.9,901.2 588.0,916.6 590.1,930.9 592.4,944.1 594.8,956.3 597.4,967.5 600.2,978.1 603.0,987.5 606.2,996.4 609.4,1004.2 612.9,1011.6 616.6,1018.2 620.5,1024.2 624.7,1029.6 629.3,1034.6 634.2,1038.9 639.3,1042.8 644.8,1046.1 650.9,1049.0 657.1,1051.4 664.0,1053.4 671.5,1055.0 679.2,1056.1 685.0,1056.6 691.1,1056.9 697.5,1057.0 704.1,1056.8 711.0,1056.4 717.9,1055.7 724.8,1054.9 732.0,1053.7 739.2,1052.4 746.4,1050.9 753.6,1049.2 760.8,1047.2 768.0,1045.1 775.1,1042.7 782.1,1040.2 789.0,1037.5 795.6,1034.7 802.0,1031.8 808.3,1028.7 814.4,1025.5 820.5,1022.1 826.6,1018.5 832.4,1014.8 838.2,1010.9 843.7,1006.9 849.2,1002.7 854.8,998.3 860.0,993.8 865.3,989.0 870.2,984.3 875.2,979.3 879.9,974.3 884.6,969.0 889.0,963.7 893.5,958.2 897.6,952.8 901.8,947.1 905.9,941.1 913.6,929.0 917.5,922.5 921.4,915.7 928.6,902.2 935.5,887.8 942.1,872.7 948.5,856.8 954.6,840.1 960.4,822.7 966.2,803.7 971.7,783.8 976.9,763.0 981.9,741.6 986.6,719.4" fill="none" stroke="#f00" stroke-width="3.4" stroke-dasharray="9.9 3.65" clip-path="url(#clipb)"/>
<path d="M114.4,701.6L119.1,725.0 124.1,747.8 129.3,769.8 134.6,789.9 140.1,809.3 145.9,828.0 152.0,845.9 158.3,863.1 165.0,879.4 171.6,894.3 178.8,909.0 186.3,923.0 194.0,936.2 198.1,942.8 202.3,949.0 206.4,955.0 210.6,960.7 215.0,966.5 219.4,972.0 224.1,977.6 228.8,982.9 233.8,988.2 238.8,993.2 244.0,998.2 249.3,1003.0 254.5,1007.5 260.1,1012.0 265.6,1016.3 271.1,1020.3 276.9,1024.2 282.7,1028.0 288.8,1031.6 294.9,1035.1 301.0,1038.3 307.3,1041.5 314.0,1044.6 320.6,1047.4 327.2,1050.0 334.1,1052.5 341.1,1054.8 348.0,1056.9 354.9,1058.8 361.8,1060.4 368.7,1061.8 375.6,1063.0 382.2,1064.0 388.9,1064.7 395.2,1065.2 401.6,1065.4 407.7,1065.4 413.8,1065.1 421.8,1064.3 429.5,1063.0 436.7,1061.2 440.3,1060.1 443.6,1058.9 449.9,1056.0 455.8,1052.8 458.6,1050.9 461.3,1048.9 463.9,1046.8 466.5,1044.5 469.0,1042.1 471.4,1039.5 475.8,1034.0 480.0,1027.9 484.0,1021.1 487.7,1013.6 491.3,1005.3 494.6,996.2 497.7,986.6 500.6,975.7 503.3,964.2 505.9,951.8 508.3,938.3 510.6,923.7 512.8,908.0 514.9,891.1 516.8,872.9 518.6,853.3 520.4,832.3 522.0,809.8 523.5,786.5 525.0,760.8 526.4,733.4 528.9,674.0" fill="none" stroke="#f00" stroke-width="3.4"  clip-path="url(#clipb)"/>
<path d="M572.1,674.0L574.6,733.4 576.0,760.8 577.5,786.5 579.0,809.8 580.6,832.3 582.4,853.3 584.2,872.9 586.1,891.1 588.2,908.0 590.4,923.7 592.7,938.3 595.1,951.8 597.7,964.2 600.4,975.7 603.3,986.6 606.4,996.2 609.7,1005.3 613.3,1013.6 617.0,1021.1 621.0,1027.9 625.2,1034.0 629.6,1039.5 632.0,1042.1 634.5,1044.5 637.1,1046.8 639.7,1048.9 642.4,1050.9 645.2,1052.8 651.1,1056.0 657.4,1058.9 660.7,1060.1 664.3,1061.2 671.5,1063.0 679.2,1064.3 687.2,1065.1 693.3,1065.4 699.4,1065.4 705.8,1065.2 712.1,1064.7 718.8,1064.0 725.4,1063.0 732.3,1061.8 739.2,1060.4 746.1,1058.8 753.0,1056.9 759.9,1054.8 766.9,1052.5 773.8,1050.0 780.4,1047.4 787.0,1044.6 793.7,1041.5 800.0,1038.3 806.1,1035.1 812.2,1031.6 818.3,1028.0 824.1,1024.2 829.9,1020.3 835.4,1016.3 840.9,1012.0 846.5,1007.5 851.7,1003.0 857.0,998.2 862.2,993.2 867.2,988.2 872.2,982.9 876.9,977.6 881.6,972.0 886.0,966.5 890.4,960.7 894.6,955.0 898.7,949.0 902.9,942.8 907.0,936.2 914.7,923.0 922.2,909.0 929.4,894.3 936.0,879.4 942.7,863.1 949.0,845.9 955.1,828.0 960.9,809.3 966.4,789.9 971.7,769.8 976.9,747.8 981.9,725.0 986.6,701.6" fill="none" stroke="#f00" stroke-width="3.4"  clip-path="url(#clipb)"/>
<path d="M155.2,674.0L160.3,693.5 165.2,711.6 170.5,729.4 175.7,746.2 181.3,762.6 187.1,778.8 193.2,794.6 199.2,809.3 205.6,823.7 212.2,837.6 218.9,850.6 225.8,863.3 233.0,875.5 240.2,886.9 247.9,898.3 255.6,908.8 263.9,919.2 272.5,929.2 281.3,938.6 290.2,947.3 299.6,955.7 309.0,963.3 318.7,970.5 328.3,976.8 338.3,982.7 343.3,985.3 348.5,988.0 353.5,990.2 358.5,992.4 363.5,994.3 368.4,996.0 373.4,997.6 378.4,999.0 383.4,1000.2 388.1,1001.1 392.8,1001.8 397.5,1002.3 401.9,1002.7 406.3,1002.8 413.2,1002.5 419.8,1001.7 426.2,1000.4 432.0,998.6 437.5,996.3 443.1,993.4 448.3,989.9 453.3,985.9 458.0,981.3 462.4,976.3 466.7,970.5 470.6,964.3 474.3,957.5 477.9,950.0 481.3,941.9 484.5,933.0 487.6,923.4 490.4,913.5 493.3,902.4 495.8,890.9 498.4,878.1 500.7,864.9 503.1,850.2 505.2,835.2 507.3,818.4 509.3,801.4 511.1,783.3 512.9,764.1 514.6,742.8 516.3,721.2 519.3,674.0" fill="none" stroke="#000" stroke-width="3.4"  clip-path="url(#clipb)"/>
<path d="M581.7,674.0L584.7,721.2 586.4,742.8 588.1,764.1 589.9,783.3 591.7,801.4 593.7,818.4 595.8,835.2 597.9,850.2 600.3,864.9 602.6,878.1 605.2,890.9 607.7,902.4 610.6,913.5 613.4,923.4 616.5,933.0 619.7,941.9 623.1,950.0 626.7,957.5 630.4,964.3 634.3,970.5 638.6,976.3 643.0,981.3 647.7,985.9 652.7,989.9 657.9,993.4 663.5,996.3 669.0,998.6 674.8,1000.4 681.2,1001.7 687.8,1002.5 694.7,1002.8 699.1,1002.7 703.5,1002.3 708.2,1001.8 712.9,1001.1 717.6,1000.2 722.6,999.0 727.6,997.6 732.6,996.0 737.5,994.3 742.5,992.4 747.5,990.2 752.5,988.0 757.7,985.3 762.7,982.7 772.7,976.8 782.3,970.5 792.0,963.3 801.4,955.7 810.8,947.3 819.7,938.6 828.5,929.2 837.1,919.2 845.4,908.8 853.1,898.3 860.8,886.9 868.0,875.5 875.2,863.3 882.1,850.6 888.8,837.6 895.4,823.7 901.8,809.3 907.8,794.6 913.9,778.8 919.7,762.6 925.3,746.2 930.5,729.4 935.8,711.6 940.7,693.5 945.8,674.0" fill="none" stroke="#000" stroke-width="3.4"  clip-path="url(#clipb)"/>
<text x="202" y="719.9" class="pl" style="font-size:33px">(b)</text>
<line x1="272.20" y1="732.80" x2="337.20" y2="732.80" stroke="#f00" stroke-width="3.3" stroke-dasharray="9.9 3.65"/>
<text x="359.50" y="739.80" class="lg" textLength="106.5" lengthAdjust="spacing">m<tspan class="eq" dy="1.9">=</tspan><tspan dy="-1.9">0</tspan>,n<tspan class="eq" dy="1.9">=</tspan><tspan dy="-1.9">1</tspan></text>
<line x1="272.20" y1="794.10" x2="337.20" y2="794.10" stroke="#00f" stroke-width="3.3" stroke-dasharray="9.9 3.65"/>
<text x="359.50" y="801.10" class="lg" textLength="108.3" lengthAdjust="spacing">m<tspan class="eq" dy="1.9">=</tspan><tspan dy="-1.9">0</tspan>,n<tspan class="eq" dy="1.9">=</tspan><tspan dy="-1.9">2</tspan></text>
<line x1="272.20" y1="855.40" x2="337.20" y2="855.40" stroke="#0f0" stroke-width="3.3" stroke-dasharray="9.9 3.65"/>
<text x="359.50" y="862.40" class="lg" textLength="108.3" lengthAdjust="spacing">m<tspan class="eq" dy="1.9">=</tspan><tspan dy="-1.9">0</tspan>,n<tspan class="eq" dy="1.9">=</tspan><tspan dy="-1.9">3</tspan></text>
<line x1="643.60" y1="716.10" x2="676.00" y2="716.10" stroke="#000" stroke-width="3.3" />
<text x="696.50" y="723.00" class="lg" textLength="108.3" lengthAdjust="spacing">m<tspan class="eq" dy="1.9">=</tspan><tspan dy="-1.9">0</tspan>,n<tspan class="eq" dy="1.9">=</tspan><tspan dy="-1.9">0</tspan></text>
<line x1="643.60" y1="777.60" x2="676.00" y2="777.60" stroke="#f00" stroke-width="3.3" />
<text x="696.50" y="784.50" class="lg" textLength="108.3" lengthAdjust="spacing">m<tspan class="eq" dy="1.9">=</tspan><tspan dy="-1.9">1</tspan>,n<tspan class="eq" dy="1.9">=</tspan><tspan dy="-1.9">0</tspan></text>
<line x1="643.60" y1="839.10" x2="676.00" y2="839.10" stroke="#00f" stroke-width="3.3" />
<text x="696.50" y="846.00" class="lg" textLength="108.3" lengthAdjust="spacing">m<tspan class="eq" dy="1.9">=</tspan><tspan dy="-1.9">2</tspan>,n<tspan class="eq" dy="1.9">=</tspan><tspan dy="-1.9">0</tspan></text>
<line x1="643.60" y1="900.60" x2="676.00" y2="900.60" stroke="#0f0" stroke-width="3.3" />
<text x="696.50" y="907.50" class="lg" textLength="108.3" lengthAdjust="spacing">m<tspan class="eq" dy="1.9">=</tspan><tspan dy="-1.9">3</tspan>,n<tspan class="eq" dy="1.9">=</tspan><tspan dy="-1.9">0</tspan></text>
<clipPath id="clipc"><rect x="116.10" y="1360.30" width="887.50" height="549.00"/></clipPath>
<line x1="560.10" y1="1360.30" x2="560.10" y2="1909.30" stroke="#aaa" stroke-width="1"/>
<path d="M150.78,1909.30v-4.1M150.78,1360.30v4.4M184.89,1909.30v-4.1M184.89,1360.30v4.4M219.00,1909.30v-7.4M219.00,1360.30v9.0M253.11,1909.30v-4.1M253.11,1360.30v4.4M287.22,1909.30v-4.1M287.22,1360.30v4.4M321.33,1909.30v-4.1M321.33,1360.30v4.4M355.44,1909.30v-4.1M355.44,1360.30v4.4M389.55,1909.30v-7.4M389.55,1360.30v9.0M423.66,1909.30v-4.1M423.66,1360.30v4.4M457.77,1909.30v-4.1M457.77,1360.30v4.4M491.88,1909.30v-4.1M491.88,1360.30v4.4M525.99,1909.30v-4.1M525.99,1360.30v4.4M560.10,1909.30v-7.4M560.10,1360.30v9.0M594.21,1909.30v-4.1M594.21,1360.30v4.4M628.32,1909.30v-4.1M628.32,1360.30v4.4M662.43,1909.30v-4.1M662.43,1360.30v4.4M696.54,1909.30v-4.1M696.54,1360.30v4.4M730.65,1909.30v-7.4M730.65,1360.30v9.0M764.76,1909.30v-4.1M764.76,1360.30v4.4M798.87,1909.30v-4.1M798.87,1360.30v4.4M832.98,1909.30v-4.1M832.98,1360.30v4.4M867.09,1909.30v-4.1M867.09,1360.30v4.4M901.20,1909.30v-7.4M901.20,1360.30v9.0M935.31,1909.30v-4.1M935.31,1360.30v4.4M969.42,1909.30v-4.1M969.42,1360.30v4.4M116.10,1891.00h3.9M1003.60,1891.00h-4.5M116.10,1872.70h3.9M1003.60,1872.70h-4.5M116.10,1854.40h3.9M1003.60,1854.40h-4.5M116.10,1836.10h3.9M1003.60,1836.10h-4.5M116.10,1817.80h6.3M1003.60,1817.80h-9.8M116.10,1799.50h3.9M1003.60,1799.50h-4.5M116.10,1781.20h3.9M1003.60,1781.20h-4.5M116.10,1762.90h3.9M1003.60,1762.90h-4.5M116.10,1744.60h3.9M1003.60,1744.60h-4.5M116.10,1726.30h6.3M1003.60,1726.30h-9.8M116.10,1708.00h3.9M1003.60,1708.00h-4.5M116.10,1689.70h3.9M1003.60,1689.70h-4.5M116.10,1671.40h3.9M1003.60,1671.40h-4.5M116.10,1653.10h3.9M1003.60,1653.10h-4.5M116.10,1634.80h6.3M1003.60,1634.80h-9.8M116.10,1616.50h3.9M1003.60,1616.50h-4.5M116.10,1598.20h3.9M1003.60,1598.20h-4.5M116.10,1579.90h3.9M1003.60,1579.90h-4.5M116.10,1561.60h3.9M1003.60,1561.60h-4.5M116.10,1543.30h6.3M1003.60,1543.30h-9.8M116.10,1525.00h3.9M1003.60,1525.00h-4.5M116.10,1506.70h3.9M1003.60,1506.70h-4.5M116.10,1488.40h3.9M1003.60,1488.40h-4.5M116.10,1470.10h3.9M1003.60,1470.10h-4.5M116.10,1451.80h6.3M1003.60,1451.80h-9.8M116.10,1433.50h3.9M1003.60,1433.50h-4.5M116.10,1415.20h3.9M1003.60,1415.20h-4.5M116.10,1396.90h3.9M1003.60,1396.90h-4.5M116.10,1378.60h3.9M1003.60,1378.60h-4.5" stroke="#666" stroke-width="1.2" fill="none"/>
<rect x="116.10" y="1360.30" width="887.50" height="549.00" fill="none" stroke="#666" stroke-width="1.3"/>
<text x="110.90" y="1922.80" text-anchor="end" class="tk" font-size="40" letter-spacing="-0.5">0.40</text>
<text x="110.90" y="1831.30" text-anchor="end" class="tk" font-size="40" letter-spacing="-0.5">0.45</text>
<text x="110.90" y="1739.80" text-anchor="end" class="tk" font-size="40" letter-spacing="-0.5">0.50</text>
<text x="110.90" y="1648.30" text-anchor="end" class="tk" font-size="40" letter-spacing="-0.5">0.55</text>
<text x="110.90" y="1556.80" text-anchor="end" class="tk" font-size="40" letter-spacing="-0.5">0.60</text>
<text x="110.90" y="1465.30" text-anchor="end" class="tk" font-size="40" letter-spacing="-0.5">0.65</text>
<text x="110.90" y="1373.80" text-anchor="end" class="tk" font-size="40" letter-spacing="-0.5">0.70</text>
<text x="219.00" y="1948.90" text-anchor="middle" class="tk"><tspan font-size="45" dy="5.4">−</tspan><tspan dy="-5.4" dx="1.3">2</tspan></text>
<text x="389.55" y="1948.90" text-anchor="middle" class="tk"><tspan font-size="45" dy="5.4">−</tspan><tspan dy="-5.4" dx="1.3">1</tspan></text>
<text x="560.10" y="1948.90" text-anchor="middle" class="tk">0</text>
<text x="730.65" y="1948.90" text-anchor="middle" class="tk">1</text>
<text x="901.20" y="1948.90" text-anchor="middle" class="tk">2</text>
<text transform="translate(558.90,1998.60) skewX(-7)" text-anchor="middle" class="ax" stroke="#000" stroke-width="0.7">ϕ</text>
<text transform="translate(26.5,1634.80) rotate(-90)" x="-23.2" class="tk">Δ</text>
<text transform="translate(26.5,1634.80) rotate(-90) translate(0.2,0) skewX(-8)" class="tk" font-style="italic" font-size="36.5" stroke="#000" stroke-width="0.7">ϕ</text>
<path d="M147.2,1360.3L151.8,1394.6 156.4,1426.2 161.3,1456.9 166.2,1485.3 171.3,1512.8 176.7,1539.4 182.4,1565.1 188.3,1589.7 194.5,1613.2 200.8,1634.7 207.2,1655.1 214.0,1674.6 221.0,1693.1 224.8,1702.4 228.6,1711.2 232.4,1719.6 236.2,1727.6 240.2,1735.8 244.3,1743.5 248.3,1750.9 252.6,1758.4 257.0,1765.5 261.6,1772.7 266.2,1779.4 270.7,1785.9 275.6,1792.3 280.5,1798.4 285.3,1804.1 290.5,1809.8 295.6,1815.2 300.7,1820.3 306.2,1825.3 311.6,1830.0 317.2,1834.7 322.9,1839.0 328.9,1843.2 334.8,1847.2 341.0,1851.0 347.2,1854.5 353.4,1857.7 359.9,1860.8 366.2,1863.5 372.6,1866.0 379.1,1868.3 385.6,1870.2 392.1,1871.9 398.6,1873.3 405.1,1874.4 411.3,1875.2 417.2,1875.7 423.2,1875.8 427.5,1875.7 431.6,1875.5 435.6,1875.1 439.7,1874.5 443.4,1873.7 447.2,1872.7 450.7,1871.6 454.3,1870.3 457.5,1868.9 460.8,1867.2 463.9,1865.4 466.8,1863.5 469.7,1861.3 472.4,1859.1 475.1,1856.5 477.6,1853.9 480.1,1851.1 482.4,1848.0 484.7,1844.8 487.0,1841.3 489.1,1837.7 491.2,1833.7 495.1,1825.4 498.8,1816.1 502.1,1806.0 505.2,1794.9 508.2,1782.5 511.1,1768.8 513.6,1754.2 516.2,1737.6 518.5,1720.1 520.7,1700.9 522.7,1679.9 524.7,1657.1 526.5,1633.2 528.2,1606.3 529.9,1578.2 531.4,1547.9 532.8,1515.2 534.2,1480.0 535.5,1443.7 537.9,1360.3" fill="none" stroke="#0f0" stroke-width="3.4" stroke-dasharray="4.8 3.6 10 3.67" clip-path="url(#clipc)"/>
<path d="M582.3,1360.3L584.7,1443.7 586.0,1480.0 587.4,1515.2 588.8,1547.9 590.3,1578.2 592.0,1606.3 593.7,1633.2 595.5,1657.1 597.5,1679.9 599.5,1700.9 601.7,1720.1 604.0,1737.6 606.6,1754.2 609.1,1768.8 612.0,1782.5 615.0,1794.9 618.1,1806.0 621.4,1816.1 625.1,1825.4 629.0,1833.7 631.1,1837.7 633.2,1841.3 635.5,1844.8 637.8,1848.0 640.1,1851.1 642.6,1853.9 645.1,1856.5 647.8,1859.1 650.5,1861.3 653.4,1863.5 656.3,1865.4 659.4,1867.2 662.7,1868.9 665.9,1870.3 669.5,1871.6 673.0,1872.7 676.8,1873.7 680.5,1874.5 684.6,1875.1 688.6,1875.5 692.7,1875.7 697.0,1875.8 703.0,1875.7 708.9,1875.2 715.1,1874.4 721.6,1873.3 728.1,1871.9 734.6,1870.2 741.1,1868.3 747.6,1866.0 754.0,1863.5 760.3,1860.8 766.8,1857.7 773.0,1854.5 779.2,1851.0 785.4,1847.2 791.3,1843.2 797.3,1839.0 803.0,1834.7 808.6,1830.0 814.0,1825.3 819.5,1820.3 824.6,1815.2 829.7,1809.8 834.9,1804.1 839.7,1798.4 844.6,1792.3 849.5,1785.9 854.0,1779.4 858.6,1772.7 863.2,1765.5 867.6,1758.4 871.9,1750.9 875.9,1743.5 880.0,1735.8 884.0,1727.6 887.8,1719.6 891.6,1711.2 895.4,1702.4 899.2,1693.1 906.2,1674.6 913.0,1655.1 919.4,1634.7 925.7,1613.2 931.9,1589.7 937.8,1565.1 943.5,1539.4 948.9,1512.8 954.0,1485.3 958.9,1456.9 963.8,1426.2 968.4,1394.6 973.0,1360.3" fill="none" stroke="#0f0" stroke-width="3.4" stroke-dasharray="4.8 3.6 10 3.67" clip-path="url(#clipc)"/>
<path d="M149.1,1360.3L153.7,1394.8 158.3,1426.5 163.2,1457.4 168.3,1487.4 173.5,1515.0 178.9,1541.8 184.5,1567.7 190.5,1592.5 196.7,1616.2 202.9,1638.0 209.7,1659.6 216.4,1679.4 223.5,1698.1 230.7,1715.9 234.5,1724.4 238.3,1732.6 242.4,1741.0 246.4,1749.0 250.5,1756.5 254.8,1764.2 259.1,1771.5 263.7,1778.9 268.3,1785.8 272.9,1792.5 277.5,1798.7 282.4,1805.0 287.2,1811.0 292.4,1816.9 297.5,1822.5 302.6,1827.7 308.0,1833.0 313.4,1837.9 318.9,1842.5 324.5,1847.0 330.5,1851.4 336.4,1855.6 342.4,1859.4 348.6,1863.1 354.8,1866.5 361.0,1869.6 367.2,1872.4 373.7,1875.1 380.2,1877.5 386.4,1879.5 392.9,1881.2 399.1,1882.7 405.3,1883.8 411.6,1884.6 417.5,1885.1 423.2,1885.3 427.2,1885.2 431.3,1884.9 435.3,1884.5 439.1,1883.9 442.9,1883.1 446.4,1882.2 449.9,1881.0 453.4,1879.7 456.7,1878.2 460.0,1876.4 463.1,1874.5 466.0,1872.6 469.0,1870.3 471.7,1867.9 474.3,1865.3 476.8,1862.6 479.3,1859.6 481.7,1856.4 484.0,1853.0 486.1,1849.6 488.3,1845.8 490.2,1841.9 494.2,1833.3 497.9,1823.5 501.3,1813.0 504.5,1801.3 507.4,1788.9 510.3,1774.6 512.9,1759.5 515.4,1742.9 517.7,1724.8 519.9,1704.9 522.0,1684.1 523.9,1661.5 525.7,1637.0 527.5,1610.5 529.1,1581.8 530.7,1550.9 532.2,1517.6 533.6,1481.7 534.9,1444.7 537.3,1360.3" fill="none" stroke="#0f0" stroke-width="3.4"  clip-path="url(#clipc)"/>
<path d="M582.9,1360.3L585.3,1444.7 586.6,1481.7 588.0,1517.6 589.5,1550.9 591.1,1581.8 592.7,1610.5 594.5,1637.0 596.3,1661.5 598.2,1684.1 600.3,1704.9 602.5,1724.8 604.8,1742.9 607.3,1759.5 609.9,1774.6 612.8,1788.9 615.7,1801.3 618.9,1813.0 622.3,1823.5 626.0,1833.3 630.0,1841.9 631.9,1845.8 634.1,1849.6 636.2,1853.0 638.5,1856.4 640.9,1859.6 643.4,1862.6 645.9,1865.3 648.5,1867.9 651.2,1870.3 654.2,1872.6 657.1,1874.5 660.2,1876.4 663.5,1878.2 666.8,1879.7 670.3,1881.0 673.8,1882.2 677.3,1883.1 681.1,1883.9 684.9,1884.5 688.9,1884.9 693.0,1885.2 697.0,1885.3 702.7,1885.1 708.6,1884.6 714.9,1883.8 721.1,1882.7 727.3,1881.2 733.8,1879.5 740.0,1877.5 746.5,1875.1 753.0,1872.4 759.2,1869.6 765.4,1866.5 771.6,1863.1 777.8,1859.4 783.8,1855.6 789.7,1851.4 795.7,1847.0 801.3,1842.5 806.8,1837.9 812.2,1833.0 817.6,1827.7 822.7,1822.5 827.8,1816.9 833.0,1811.0 837.8,1805.0 842.7,1798.7 847.3,1792.5 851.9,1785.8 856.5,1778.9 861.1,1771.5 865.4,1764.2 869.7,1756.5 873.8,1749.0 877.8,1741.0 881.9,1732.6 885.7,1724.4 889.5,1715.9 896.7,1698.1 903.8,1679.4 910.5,1659.6 917.3,1638.0 923.5,1616.2 929.7,1592.5 935.7,1567.7 941.3,1541.8 946.7,1515.0 951.9,1487.4 957.0,1457.4 961.9,1426.5 966.5,1394.8 971.1,1360.3" fill="none" stroke="#0f0" stroke-width="3.4"  clip-path="url(#clipc)"/>
<path d="M157.4,1360.3L161.8,1389.6 166.7,1419.1 171.6,1446.3 176.7,1472.9 182.1,1498.6 187.5,1522.4 193.2,1545.4 198.9,1566.6 205.1,1588.0 211.3,1607.6 217.8,1626.5 224.5,1644.5 231.6,1661.7 238.9,1678.0 246.4,1693.5 254.3,1708.2 258.3,1715.3 262.6,1722.4 267.0,1729.3 271.3,1735.8 275.9,1742.4 280.5,1748.7 285.1,1754.7 289.9,1760.7 294.8,1766.3 299.7,1771.7 304.8,1777.1 309.9,1782.2 315.1,1787.0 320.5,1791.8 325.9,1796.3 331.3,1800.5 337.0,1804.7 342.6,1808.6 348.3,1812.3 354.3,1815.8 360.2,1819.0 366.2,1822.0 372.1,1824.8 378.0,1827.3 384.0,1829.5 389.9,1831.4 395.9,1833.1 401.6,1834.4 407.2,1835.5 412.9,1836.2 418.3,1836.7 423.7,1836.8 427.5,1836.8 431.3,1836.5 435.1,1836.1 438.6,1835.5 442.1,1834.7 445.3,1833.8 448.6,1832.7 451.8,1831.4 454.8,1830.0 457.8,1828.4 460.8,1826.6 463.5,1824.6 466.4,1822.4 469.0,1820.1 471.5,1817.6 473.9,1815.0 476.3,1812.1 478.6,1809.0 482.9,1802.5 487.0,1795.1 490.8,1786.8 494.4,1777.6 497.8,1767.7 500.9,1756.7 503.8,1745.2 506.7,1731.9 509.3,1718.0 511.7,1702.8 514.1,1686.2 516.3,1668.2 518.5,1648.7 520.5,1627.5 522.4,1605.5 524.1,1581.7 525.8,1556.2 527.4,1528.8 528.9,1499.3 530.4,1467.7 531.8,1433.9 534.3,1360.3" fill="none" stroke="#00f" stroke-width="3.4" stroke-dasharray="4.4 4.1" clip-path="url(#clipc)"/>
<path d="M585.9,1360.3L588.4,1433.9 589.8,1467.7 591.3,1499.3 592.8,1528.8 594.4,1556.2 596.1,1581.7 597.8,1605.5 599.7,1627.5 601.7,1648.7 603.9,1668.2 606.1,1686.2 608.5,1702.8 610.9,1718.0 613.5,1731.9 616.4,1745.2 619.3,1756.7 622.4,1767.7 625.8,1777.6 629.4,1786.8 633.2,1795.1 637.3,1802.5 641.6,1809.0 643.9,1812.1 646.3,1815.0 648.7,1817.6 651.2,1820.1 653.8,1822.4 656.7,1824.6 659.4,1826.6 662.4,1828.4 665.4,1830.0 668.4,1831.4 671.6,1832.7 674.9,1833.8 678.1,1834.7 681.6,1835.5 685.1,1836.1 688.9,1836.5 692.7,1836.8 696.5,1836.8 701.9,1836.7 707.3,1836.2 713.0,1835.5 718.6,1834.4 724.3,1833.1 730.3,1831.4 736.2,1829.5 742.2,1827.3 748.1,1824.8 754.0,1822.0 760.0,1819.0 765.9,1815.8 771.9,1812.3 777.6,1808.6 783.2,1804.7 788.9,1800.5 794.3,1796.3 799.7,1791.8 805.1,1787.0 810.3,1782.2 815.4,1777.1 820.5,1771.7 825.4,1766.3 830.3,1760.7 835.1,1754.7 839.7,1748.7 844.3,1742.4 848.9,1735.8 853.2,1729.3 857.6,1722.4 861.9,1715.3 865.9,1708.2 873.8,1693.5 881.3,1678.0 888.6,1661.7 895.7,1644.5 902.4,1626.5 908.9,1607.6 915.1,1588.0 921.3,1566.6 927.0,1545.4 932.7,1522.4 938.1,1498.6 943.5,1472.9 948.6,1446.3 953.5,1419.1 958.4,1389.6 962.8,1360.3" fill="none" stroke="#00f" stroke-width="3.4" stroke-dasharray="4.4 4.1" clip-path="url(#clipc)"/>
<path d="M162.3,1360.3L167.0,1391.7 171.6,1420.6 176.4,1448.9 181.6,1476.7 187.0,1503.7 192.4,1528.8 198.0,1553.0 203.7,1575.5 209.7,1597.3 215.9,1618.3 222.4,1638.5 229.1,1657.8 236.2,1676.3 243.2,1693.3 250.7,1710.1 258.3,1725.4 262.4,1733.1 266.4,1740.5 270.5,1747.5 274.8,1754.6 279.1,1761.4 283.5,1767.9 288.0,1774.4 292.6,1780.6 297.2,1786.5 302.1,1792.4 307.0,1798.0 311.8,1803.3 316.7,1808.4 321.8,1813.4 327.0,1818.1 332.1,1822.5 337.5,1826.9 342.9,1830.9 348.3,1834.7 353.7,1838.2 359.1,1841.5 364.8,1844.6 370.5,1847.5 376.2,1850.1 381.8,1852.4 387.2,1854.3 392.9,1856.0 398.3,1857.4 403.7,1858.5 409.1,1859.3 414.3,1859.7 419.4,1859.9 423.2,1859.8 427.0,1859.5 430.7,1859.0 434.3,1858.4 437.8,1857.5 441.0,1856.5 444.3,1855.3 447.5,1853.9 450.5,1852.4 453.4,1850.7 456.4,1848.7 459.2,1846.7 462.0,1844.3 464.7,1841.8 467.3,1839.0 469.7,1836.3 472.2,1833.1 474.4,1829.9 478.8,1823.0 481.0,1818.9 483.1,1814.9 487.0,1806.2 490.7,1796.4 494.0,1786.1 497.4,1774.2 500.4,1761.7 503.4,1747.9 506.1,1732.9 508.7,1716.6 511.2,1699.5 513.5,1680.3 515.7,1660.2 517.8,1638.6 519.8,1615.3 521.7,1590.3 523.5,1563.3 525.2,1534.4 526.8,1504.8 528.3,1471.7 529.8,1436.3 532.5,1360.3" fill="none" stroke="#00f" stroke-width="3.4"  clip-path="url(#clipc)"/>
<path d="M587.7,1360.3L590.4,1436.3 591.9,1471.7 593.4,1504.8 595.0,1534.4 596.7,1563.3 598.5,1590.3 600.4,1615.3 602.4,1638.6 604.5,1660.2 606.7,1680.3 609.0,1699.5 611.5,1716.6 614.1,1732.9 616.8,1747.9 619.8,1761.7 622.8,1774.2 626.2,1786.1 629.5,1796.4 633.2,1806.2 637.1,1814.9 639.2,1818.9 641.4,1823.0 645.8,1829.9 648.0,1833.1 650.5,1836.3 652.9,1839.0 655.5,1841.8 658.2,1844.3 661.0,1846.7 663.8,1848.7 666.8,1850.7 669.7,1852.4 672.7,1853.9 675.9,1855.3 679.2,1856.5 682.4,1857.5 685.9,1858.4 689.5,1859.0 693.2,1859.5 697.0,1859.8 700.8,1859.9 705.9,1859.7 711.1,1859.3 716.5,1858.5 721.9,1857.4 727.3,1856.0 733.0,1854.3 738.4,1852.4 744.0,1850.1 749.7,1847.5 755.4,1844.6 761.1,1841.5 766.5,1838.2 771.9,1834.7 777.3,1830.9 782.7,1826.9 788.1,1822.5 793.2,1818.1 798.4,1813.4 803.5,1808.4 808.4,1803.3 813.2,1798.0 818.1,1792.4 823.0,1786.5 827.6,1780.6 832.2,1774.4 836.7,1767.9 841.1,1761.4 845.4,1754.6 849.7,1747.5 853.8,1740.5 857.8,1733.1 861.9,1725.4 869.5,1710.1 877.0,1693.3 884.0,1676.3 891.1,1657.8 897.8,1638.5 904.3,1618.3 910.5,1597.3 916.5,1575.5 922.2,1553.0 927.8,1528.8 933.2,1503.7 938.6,1476.7 943.8,1448.9 948.6,1420.6 953.2,1391.7 957.9,1360.3" fill="none" stroke="#00f" stroke-width="3.4"  clip-path="url(#clipc)"/>
<path d="M177.8,1360.3L182.4,1386.4 187.2,1412.2 192.1,1436.2 197.2,1459.8 202.4,1481.9 207.8,1503.5 213.5,1524.6 219.1,1544.2 225.1,1563.3 231.3,1581.8 237.8,1599.7 244.3,1616.2 251.0,1632.2 258.0,1647.5 265.3,1662.3 272.6,1675.8 280.7,1689.7 288.9,1702.3 297.2,1714.3 301.6,1720.1 305.9,1725.6 310.5,1731.2 315.1,1736.4 319.7,1741.5 324.3,1746.3 328.9,1750.8 333.7,1755.4 338.6,1759.7 343.4,1763.7 348.3,1767.6 353.4,1771.3 358.6,1774.9 363.7,1778.1 368.9,1781.2 374.0,1784.0 379.1,1786.5 384.3,1788.8 389.4,1790.9 394.3,1792.6 399.4,1794.2 404.3,1795.4 409.1,1796.4 414.0,1797.1 418.6,1797.5 423.2,1797.6 426.7,1797.5 430.2,1797.3 433.4,1796.9 436.7,1796.3 439.9,1795.5 442.9,1794.6 445.9,1793.5 448.9,1792.2 451.6,1790.9 454.3,1789.3 457.0,1787.5 459.6,1785.6 462.2,1783.5 464.7,1781.2 467.1,1778.7 469.3,1776.2 473.8,1770.5 478.0,1764.0 482.0,1756.7 485.6,1748.8 489.1,1740.2 492.4,1730.6 495.6,1720.0 498.6,1708.5 501.5,1695.8 504.1,1682.6 506.7,1668.3 509.1,1652.8 511.3,1635.9 513.4,1618.6 515.5,1599.1 517.5,1579.0 519.3,1557.5 521.0,1534.5 522.7,1509.8 524.3,1483.5 525.9,1455.3 527.3,1425.4 530.1,1360.3" fill="none" stroke="#f00" stroke-width="3.4" stroke-dasharray="9.9 3.65" clip-path="url(#clipc)"/>
<path d="M590.1,1360.3L592.9,1425.4 594.3,1455.3 595.9,1483.5 597.5,1509.8 599.2,1534.5 600.9,1557.5 602.7,1579.0 604.7,1599.1 606.8,1618.6 608.9,1635.9 611.1,1652.8 613.5,1668.3 616.1,1682.6 618.7,1695.8 621.6,1708.5 624.6,1720.0 627.8,1730.6 631.1,1740.2 634.6,1748.8 638.2,1756.7 642.2,1764.0 646.4,1770.5 650.9,1776.2 653.1,1778.7 655.5,1781.2 658.0,1783.5 660.6,1785.6 663.2,1787.5 665.9,1789.3 668.6,1790.9 671.3,1792.2 674.3,1793.5 677.3,1794.6 680.3,1795.5 683.5,1796.3 686.8,1796.9 690.0,1797.3 693.5,1797.5 697.0,1797.6 701.6,1797.5 706.2,1797.1 711.1,1796.4 715.9,1795.4 720.8,1794.2 725.9,1792.6 730.8,1790.9 735.9,1788.8 741.1,1786.5 746.2,1784.0 751.3,1781.2 756.5,1778.1 761.6,1774.9 766.8,1771.3 771.9,1767.6 776.8,1763.7 781.6,1759.7 786.5,1755.4 791.3,1750.8 795.9,1746.3 800.5,1741.5 805.1,1736.4 809.7,1731.2 814.3,1725.6 818.6,1720.1 823.0,1714.3 831.3,1702.3 839.5,1689.7 847.6,1675.8 854.9,1662.3 862.2,1647.5 869.2,1632.2 875.9,1616.2 882.4,1599.7 888.9,1581.8 895.1,1563.3 901.1,1544.2 906.7,1524.6 912.4,1503.5 917.8,1481.9 923.0,1459.8 928.1,1436.2 933.0,1412.2 937.8,1386.4 942.4,1360.3" fill="none" stroke="#f00" stroke-width="3.4" stroke-dasharray="9.9 3.65" clip-path="url(#clipc)"/>
<path d="M179.7,1360.3L184.3,1386.9 189.1,1413.5 194.0,1438.4 199.1,1462.9 204.5,1486.9 209.9,1509.2 215.6,1531.1 221.3,1551.4 227.2,1571.3 233.5,1590.5 239.7,1608.4 246.2,1625.7 252.9,1642.3 259.7,1657.8 267.0,1673.2 274.3,1687.4 282.1,1701.4 290.2,1714.7 298.6,1727.3 307.0,1738.7 311.3,1744.2 315.9,1749.8 320.2,1754.8 324.8,1759.8 329.4,1764.6 334.3,1769.4 338.9,1773.6 343.7,1777.9 348.6,1781.9 353.4,1785.7 358.3,1789.2 363.4,1792.6 368.6,1795.8 373.7,1798.7 378.9,1801.4 383.7,1803.6 388.9,1805.8 393.7,1807.6 398.6,1809.1 403.4,1810.4 408.3,1811.4 412.9,1812.1 417.5,1812.5 422.1,1812.7 425.6,1812.6 429.1,1812.3 432.4,1811.9 435.6,1811.3 438.9,1810.5 441.8,1809.6 444.8,1808.4 447.8,1807.1 450.7,1805.6 453.4,1804.0 456.1,1802.1 458.8,1800.1 461.4,1797.9 463.9,1795.4 466.4,1792.8 468.6,1790.2 471.0,1787.2 473.1,1784.2 477.3,1777.5 481.3,1769.8 485.0,1761.7 488.5,1752.6 491.9,1742.6 495.1,1731.6 498.0,1720.1 500.9,1707.0 503.6,1693.4 506.1,1678.5 508.5,1662.5 510.9,1645.1 513.0,1627.2 515.1,1607.1 517.0,1586.4 519.0,1563.2 520.7,1539.4 522.4,1513.9 524.0,1486.8 525.6,1457.8 527.1,1427.0 529.8,1360.3" fill="none" stroke="#f00" stroke-width="3.4"  clip-path="url(#clipc)"/>
<path d="M590.4,1360.3L593.1,1427.0 594.6,1457.8 596.2,1486.8 597.8,1513.9 599.5,1539.4 601.2,1563.2 603.2,1586.4 605.1,1607.1 607.2,1627.2 609.3,1645.1 611.7,1662.5 614.1,1678.5 616.6,1693.4 619.3,1707.0 622.2,1720.1 625.1,1731.6 628.3,1742.6 631.7,1752.6 635.2,1761.7 638.9,1769.8 642.9,1777.5 647.1,1784.2 649.2,1787.2 651.6,1790.2 653.8,1792.8 656.3,1795.4 658.8,1797.9 661.4,1800.1 664.1,1802.1 666.8,1804.0 669.5,1805.6 672.4,1807.1 675.4,1808.4 678.4,1809.6 681.3,1810.5 684.6,1811.3 687.8,1811.9 691.1,1812.3 694.6,1812.6 698.1,1812.7 702.7,1812.5 707.3,1812.1 711.9,1811.4 716.8,1810.4 721.6,1809.1 726.5,1807.6 731.3,1805.8 736.5,1803.6 741.3,1801.4 746.5,1798.7 751.6,1795.8 756.8,1792.6 761.9,1789.2 766.8,1785.7 771.6,1781.9 776.5,1777.9 781.3,1773.6 785.9,1769.4 790.8,1764.6 795.4,1759.8 800.0,1754.8 804.3,1749.8 808.9,1744.2 813.2,1738.7 821.6,1727.3 830.0,1714.7 838.1,1701.4 845.9,1687.4 853.2,1673.2 860.5,1657.8 867.3,1642.3 874.0,1625.7 880.5,1608.4 886.7,1590.5 893.0,1571.3 898.9,1551.4 904.6,1531.1 910.3,1509.2 915.7,1486.9 921.1,1462.9 926.2,1438.4 931.1,1413.5 935.9,1386.9 940.5,1360.3" fill="none" stroke="#f00" stroke-width="3.4"  clip-path="url(#clipc)"/>
<text x="209.2" y="1408.1" class="pl" style="font-size:33px">(c)</text>
<line x1="287.20" y1="1417.60" x2="352.00" y2="1417.60" stroke="#f00" stroke-width="3.3" stroke-dasharray="9.9 3.65"/>
<text x="374.60" y="1424.30" class="lg" textLength="108.3" lengthAdjust="spacing">m<tspan class="eq" dy="1.9">=</tspan><tspan dy="-1.9">1</tspan>,n<tspan class="eq" dy="1.9">=</tspan><tspan dy="-1.9">2</tspan></text>
<line x1="287.20" y1="1479.60" x2="352.00" y2="1479.60" stroke="#00f" stroke-width="3.3" stroke-dasharray="4.4 4.1"/>
<text x="374.60" y="1486.30" class="lg" textLength="108.3" lengthAdjust="spacing">m<tspan class="eq" dy="1.9">=</tspan><tspan dy="-1.9">1</tspan>,n<tspan class="eq" dy="1.9">=</tspan><tspan dy="-1.9">3</tspan></text>
<line x1="287.20" y1="1541.60" x2="348.50" y2="1541.60" stroke="#0f0" stroke-width="3.3" stroke-dasharray="4.8 3.6 10 3.67"/>
<text x="374.60" y="1548.30" class="lg" textLength="108.3" lengthAdjust="spacing">m<tspan class="eq" dy="1.9">=</tspan><tspan dy="-1.9">2</tspan>,n<tspan class="eq" dy="1.9">=</tspan><tspan dy="-1.9">3</tspan></text>
<line x1="655.40" y1="1399.10" x2="687.90" y2="1399.10" stroke="#f00" stroke-width="3.3" />
<text x="708.10" y="1406.20" class="lg" textLength="106.5" lengthAdjust="spacing">m<tspan class="eq" dy="1.9">=</tspan><tspan dy="-1.9">2</tspan>,n<tspan class="eq" dy="1.9">=</tspan><tspan dy="-1.9">1</tspan></text>
<line x1="655.40" y1="1460.40" x2="687.90" y2="1460.40" stroke="#00f" stroke-width="3.3" />
<text x="708.10" y="1467.50" class="lg" textLength="106.5" lengthAdjust="spacing">m<tspan class="eq" dy="1.9">=</tspan><tspan dy="-1.9">3</tspan>,n<tspan class="eq" dy="1.9">=</tspan><tspan dy="-1.9">1</tspan></text>
<line x1="655.40" y1="1521.70" x2="687.90" y2="1521.70" stroke="#0f0" stroke-width="3.3" />
<text x="708.10" y="1528.80" class="lg" textLength="108.3" lengthAdjust="spacing">m<tspan class="eq" dy="1.9">=</tspan><tspan dy="-1.9">3</tspan>,n<tspan class="eq" dy="1.9">=</tspan><tspan dy="-1.9">2</tspan></text>
</svg>
</body></html>
